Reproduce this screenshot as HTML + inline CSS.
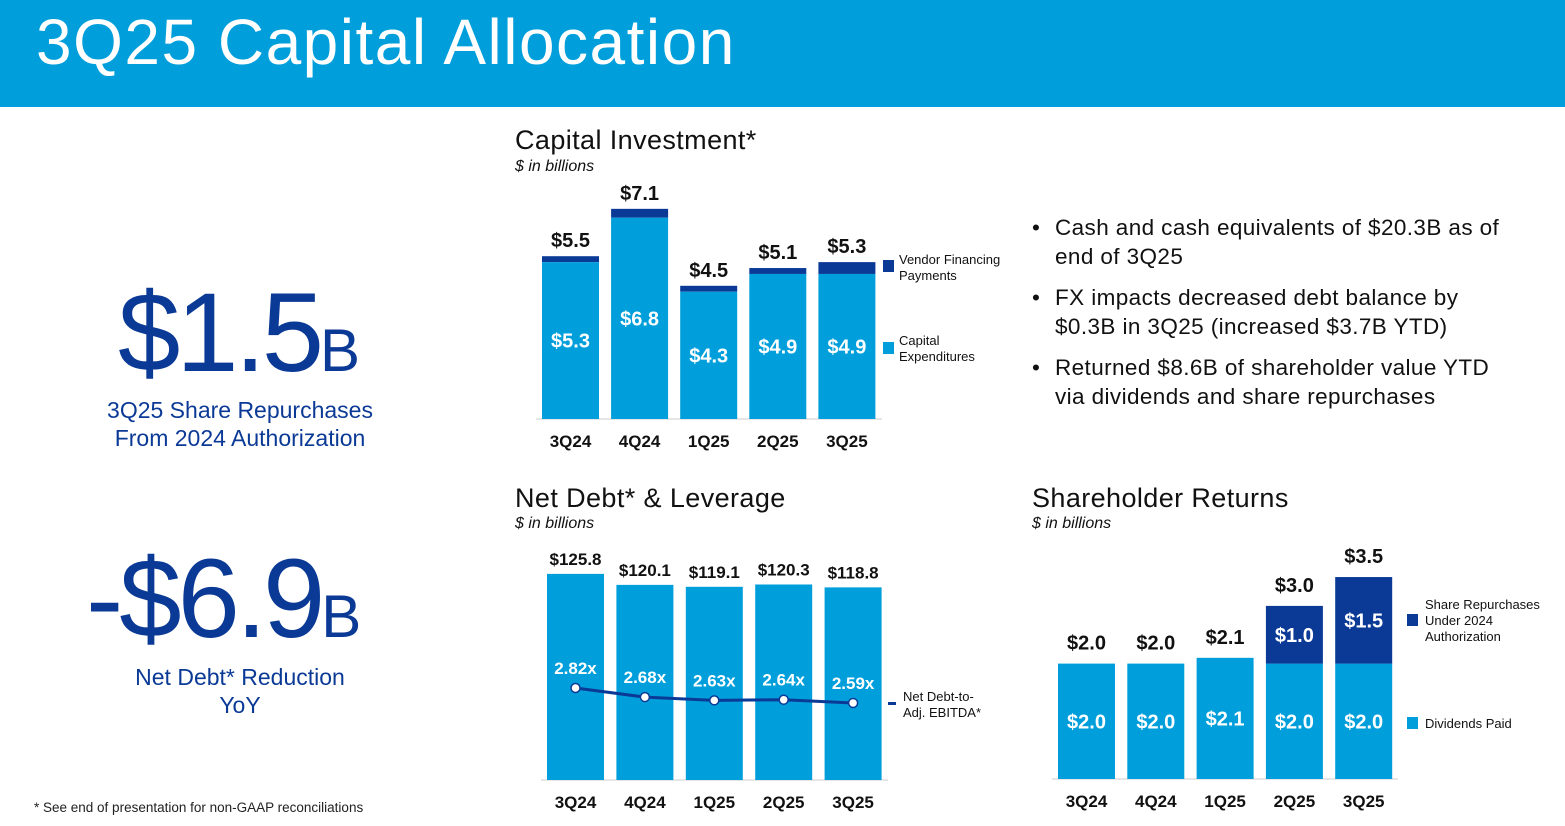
<!DOCTYPE html>
<html><head><meta charset="utf-8"><style>
body{margin:0;width:1565px;height:826px;background:#fff;font-family:"Liberation Sans","DejaVu Sans",sans-serif;position:relative;overflow:hidden}
.hdr{position:absolute;left:0;top:0;width:1565px;height:107px;background:#009fdb}
.hdr h1{margin:0;position:absolute;left:36px;top:5px;color:#fff;font-size:64px;font-weight:normal;letter-spacing:1.5px}
.t{position:absolute;white-space:nowrap}
svg{position:absolute;left:0;top:0}
</style></head><body>
<div class="hdr"><h1>3Q25 Capital Allocation</h1></div>

<div class="t" style="left:118px;top:268px;color:#0b3a96;font-size:112px;letter-spacing:-4px">$1.5<span style="font-size:60px">B</span></div>
<div class="t" style="left:70px;top:396px;width:340px;text-align:center;color:#0b3a96;font-size:23px;line-height:28px">3Q25 Share Repurchases<br>From 2024 Authorization</div>
<div class="t" style="left:86px;top:534px;color:#0b3a96;font-size:112px;letter-spacing:-4px">-$6.9<span style="font-size:60px">B</span></div>
<div class="t" style="left:70px;top:663px;width:340px;text-align:center;color:#0b3a96;font-size:23px;line-height:28px">Net Debt* Reduction<br>YoY</div>
<div class="t" style="left:34px;top:800px;font-size:13.5px;color:#222">* See end of presentation for non-GAAP reconciliations</div>

<div class="t" style="left:515px;top:125px;font-size:27px;letter-spacing:0.4px;color:#111">Capital Investment*</div>
<div class="t" style="left:515px;top:158px;font-size:16px;font-style:italic;color:#111">$ in billions</div>
<div class="t" style="left:515px;top:483px;font-size:27px;letter-spacing:0.4px;color:#111">Net Debt* &amp; Leverage</div>
<div class="t" style="left:515px;top:515px;font-size:16px;font-style:italic;color:#111">$ in billions</div>
<div class="t" style="left:1032px;top:483px;font-size:27px;letter-spacing:0.4px;color:#111">Shareholder Returns</div>
<div class="t" style="left:1032px;top:515px;font-size:16px;font-style:italic;color:#111">$ in billions</div>

<div class="t" style="left:1032px;top:214px;font-size:22.5px;letter-spacing:0.4px;color:#111;line-height:28.5px">
<div style="position:relative;padding-left:23px;margin-bottom:13px"><span style="position:absolute;left:0">•</span>Cash and cash equivalents of $20.3B as of<br>end of 3Q25</div>
<div style="position:relative;padding-left:23px;margin-bottom:13px"><span style="position:absolute;left:0">•</span>FX impacts decreased debt balance by<br>$0.3B in 3Q25 (increased $3.7B YTD)</div>
<div style="position:relative;padding-left:23px"><span style="position:absolute;left:0">•</span>Returned $8.6B of shareholder value YTD<br>via dividends and share repurchases</div>
</div>

<svg id="chart" width="1565" height="826"></svg>
<script>
const quarters=["3Q24","4Q24","1Q25","2Q25","3Q25"];
const capexVals=[5.3,6.8,4.3,4.9,4.9];
const capTotals=[5.5,7.1,4.5,5.1,5.3];
const netDebtVals=[125.8,120.1,119.1,120.3,118.8];
const leverageVals=[2.82,2.68,2.63,2.64,2.59];
const dividendVals=[2.0,2.0,2.1,2.0,2.0];
const repurchaseVals=[0,0,0,1.0,1.5];
const returnTotals=[2.0,2.0,2.1,3.0,3.5];

const svg=document.getElementById('chart');
const NS='http://www.w3.org/2000/svg';
const LB='#009fdb',DB='#0b3a96';
function mk(tag,a,parent){const e=document.createElementNS(NS,tag);for(const k in a)e.setAttribute(k,a[k]);(parent||svg).appendChild(e);return e;}
function txt(x,y,s,size,fill,bold,anchor){const e=mk('text',{x:x,y:y,'font-size':size,fill:fill,'font-weight':bold?'bold':'normal','text-anchor':anchor||'middle','font-family':'Liberation Sans, sans-serif'});e.textContent=s;return e;}

// Capital investment
const c1x=i=>542+i*69.1, c1w=57, c1base=419, c1y=v=>c1base-v*29.6;
mk('line',{x1:536,y1:c1base,x2:882,y2:c1base,stroke:'#ccc'});
quarters.forEach((q,i)=>{
 const x=c1x(i);
 let r=mk('rect',{x:x,y:c1y(capTotals[i]),width:c1w,height:c1y(capexVals[i])-c1y(capTotals[i]),fill:DB});
 
 
 r=mk('rect',{x:x,y:c1y(capexVals[i]),width:c1w,height:c1base-c1y(capexVals[i]),fill:LB});
 
 
 txt(x+c1w/2,c1y(capTotals[i])-9,'$'+capTotals[i].toFixed(1),20,'#111',true);
 txt(x+c1w/2,(c1y(capexVals[i])+c1base)/2+7,'$'+capexVals[i].toFixed(1),20,'#fff',true);
 txt(x+c1w/2,447,q,17,'#111',true);
});
mk('rect',{x:883,y:260,width:11,height:12,fill:DB});
txt(899,264,'Vendor Financing',13,'#111',false,'start');txt(899,280,'Payments',13,'#111',false,'start');
mk('rect',{x:883,y:342,width:11,height:12,fill:LB});
txt(899,345,'Capital',13,'#111',false,'start');txt(899,361,'Expenditures',13,'#111',false,'start');

// Net debt
const c2x=i=>547+i*69.4, c2w=57, c2base=780, c2y=v=>c2base-(v-19)*1.93;
const levY=v=>688+(2.82-v)*65;
mk('line',{x1:541,y1:c2base,x2:888,y2:c2base,stroke:'#ccc'});
quarters.forEach((q,i)=>{
 const x=c2x(i);
 const r=mk('rect',{x:x,y:c2y(netDebtVals[i]),width:c2w,height:c2base-c2y(netDebtVals[i]),fill:LB});
 
 
 txt(x+c2w/2,c2y(netDebtVals[i])-9,'$'+netDebtVals[i].toFixed(1),17,'#111',true);
 txt(x+c2w/2,808,q,17,'#111',true);
 txt(x+c2w/2,levY(leverageVals[i])-14,leverageVals[i].toFixed(2)+'x',17,'#fff',true);
});
const pts=leverageVals.map((v,i)=>(c2x(i)+c2w/2)+','+levY(v)).join(' ');
const pl=mk('polyline',{points:pts,fill:'none',stroke:DB,'stroke-width':3});


leverageVals.forEach((v,i)=>{const c=mk('circle',{cx:c2x(i)+c2w/2,cy:levY(v),r:4.5,fill:'#fff',stroke:DB,'stroke-width':1.5});
 
 });
mk('rect',{x:888,y:702,width:8,height:3,fill:DB});
txt(903,701,'Net Debt-to-',13,'#111',false,'start');txt(903,717,'Adj. EBITDA*',13,'#111',false,'start');

// Shareholder returns
const c3x=i=>1058+i*69.3, c3w=57, c3base=779, c3y=v=>c3base-v*57.7;
mk('line',{x1:1052,y1:c3base,x2:1398,y2:c3base,stroke:'#ccc'});
quarters.forEach((q,i)=>{
 const x=c3x(i);
 let r=mk('rect',{x:x,y:c3y(dividendVals[i]),width:c3w,height:c3base-c3y(dividendVals[i]),fill:LB});
 
 
 if(repurchaseVals[i]>0){
  const tot=dividendVals[i]+repurchaseVals[i];
  r=mk('rect',{x:x,y:c3y(tot),width:c3w,height:c3y(dividendVals[i])-c3y(tot),fill:DB});
  
  
  txt(x+c3w/2,(c3y(tot)+c3y(dividendVals[i]))/2+7,'$'+repurchaseVals[i].toFixed(1),20,'#fff',true);
 }
 txt(x+c3w/2,c3y(returnTotals[i])-14,'$'+returnTotals[i].toFixed(1),20,'#111',true);
 txt(x+c3w/2,(c3y(dividendVals[i])+c3base)/2+7,'$'+dividendVals[i].toFixed(1),20,'#fff',true);
 txt(x+c3w/2,807,q,17,'#111',true);
});
mk('rect',{x:1407,y:614,width:11,height:12,fill:DB});
txt(1425,609,'Share Repurchases',13,'#111',false,'start');txt(1425,625,'Under 2024',13,'#111',false,'start');txt(1425,641,'Authorization',13,'#111',false,'start');
mk('rect',{x:1407,y:717,width:11,height:12,fill:LB});
txt(1425,728,'Dividends Paid',13,'#111',false,'start');
</script>
</body></html>
